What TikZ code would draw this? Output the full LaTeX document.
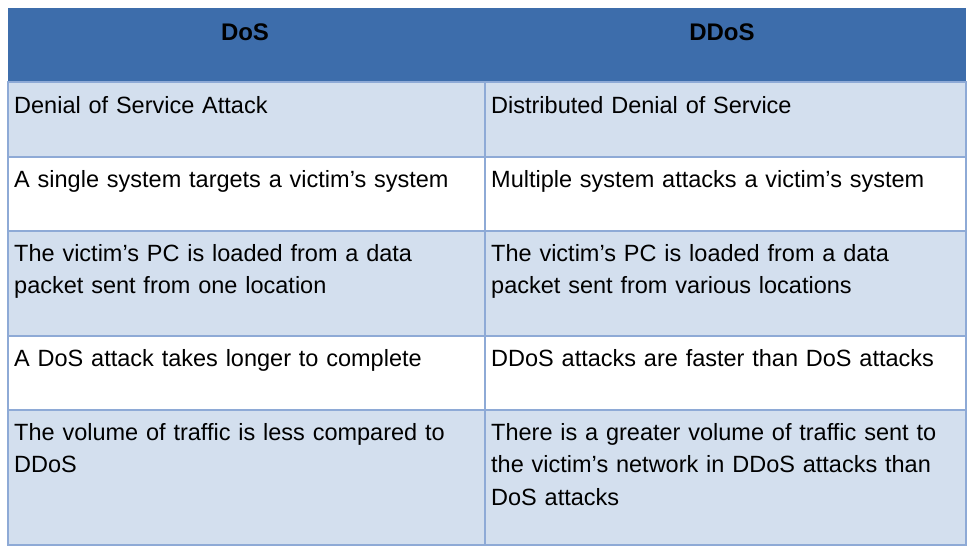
\documentclass[tikz,border=0pt]{standalone}
\usepackage{fontspec}
\setmainfont{Liberation Sans}
\definecolor{headblue}{HTML}{3D6DAB}
\definecolor{rowblue}{HTML}{D3DFEE}
\definecolor{gridblue}{HTML}{8EAAD6}
\tikzset{cell/.style={anchor=north west, inner sep=0pt, text width=465pt, align=left, font=\fontsize{23.5pt}{32.5pt}\selectfont},
  head/.style={font=\bfseries\fontsize{24pt}{28pt}\selectfont, anchor=base}}
\begin{document}
\begin{tikzpicture}[x=1pt,y=-1pt]
\useasboundingbox (0,0) rectangle (974,554);
% backgrounds
\fill[headblue] (8,8) rectangle (966,82);
\fill[rowblue] (8,82) rectangle (966,157);
\fill[rowblue] (8,231) rectangle (966,336);
\fill[rowblue] (8,410) rectangle (966,545);
% grid
\draw[gridblue, line width=1.2pt] (8,82) rectangle (966,545);
\foreach \y in {157,231,336,410} \draw[gridblue, line width=1.2pt] (8,\y) -- (966,\y);
\draw[gridblue, line width=1.2pt] (485,82) -- (485,545);
% header
\node[head] (hdos) at (245,40) {DoS};
\node[head] (hddos) at (722,40) {DDoS};
% rows
\node[cell] (a1) at (14,96) {Denial of Service Attack};
\node[cell] (b1) at (491,96) {Distributed Denial of Service};
\node[cell] (a2) at (14,170) {A single system targets a victim’s system};
\node[cell] (b2) at (491,170) {Multiple system attacks a victim’s system};
\node[cell] (a3) at (14,244) {The victim’s PC is loaded from a data\\packet sent from one location};
\node[cell] (b3) at (491,244) {The victim’s PC is loaded from a data\\packet sent from various locations};
\node[cell] (a4) at (14,349) {A DoS attack takes longer to complete};
\node[cell] (b4) at (491,349) {DDoS attacks are faster than DoS attacks};
\node[cell] (a5) at (14,423) {The volume of traffic is less compared to\\DDoS};
\node[cell] (b5) at (491,423) {There is a greater volume of traffic sent to\\the victim’s network in DDoS attacks than\\DoS attacks};
\end{tikzpicture}
\end{document}
